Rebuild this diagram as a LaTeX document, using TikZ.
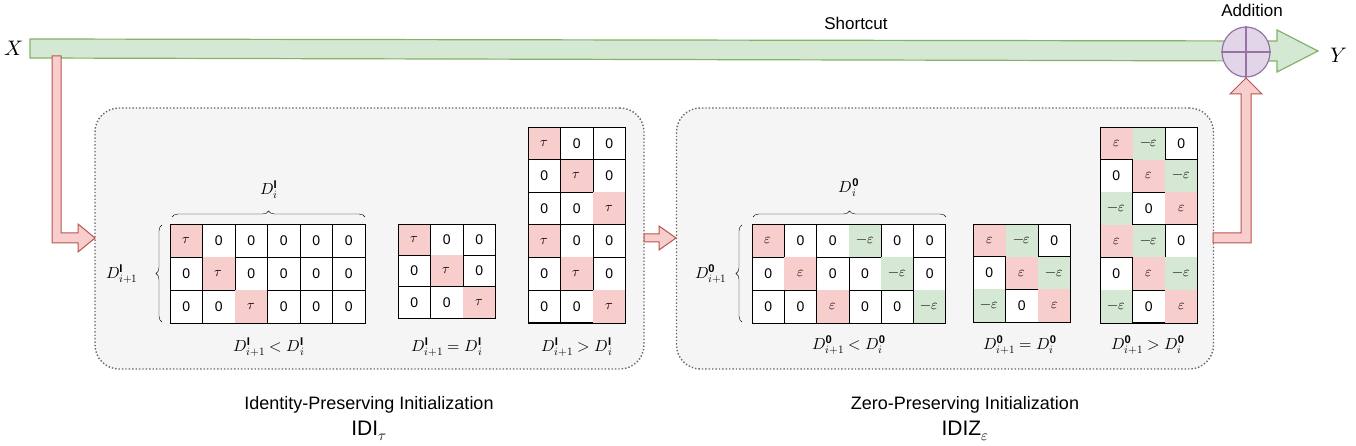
\documentclass[tikz,border=0pt]{standalone}
\usepackage{fontspec}
\setmainfont{Liberation Sans}
\usepackage{amsmath}
\usepackage{unicode-math}
\setmathfont{Latin Modern Math}
\usetikzlibrary{decorations.pathreplacing,shapes.geometric}
\definecolor{pinkf}{HTML}{F8CECC}
\definecolor{redl}{HTML}{B85450}
\definecolor{greenf}{HTML}{D5E8D4}
\definecolor{greenl}{HTML}{82B366}
\definecolor{purf}{HTML}{E1D5E7}
\definecolor{purl}{HTML}{9673A6}
\def\txtT{$\tau$}\def\txtZ{0}\def\txtE{$\varepsilon$}\def\txtM{$-\varepsilon$}
\tikzset{
 cellbase/.style={inner sep=0pt,font=\fontsize{14}{14}\selectfont},
 cellT/.style={cellbase,fill=pinkf},
 cellE/.style={cellbase,fill=pinkf},
 cellM/.style={cellbase,fill=greenf},
 cellZ/.style={cellbase,fill=white,draw=black,thick},
 grp/.style={draw=black!60,dotted,line width=1.4pt,fill=black!4,rounded corners=24pt,inner sep=0pt},
 redarr/.style={draw=redl,fill=pinkf,line width=1pt,line join=miter},
 lab/.style={font=\fontsize{16}{16}\selectfont},
 brc/.style={decorate,decoration={brace,amplitude=6pt},thin},
}
\newcommand\mtx[6]{\foreach \r [count=\i] in {#6} {\foreach \c [count=\j] in \r {
 \node[cell\c,minimum width=#4pt,minimum height=#5pt] (#1-\i-\j) at ({#2+(\j-0.5)*#4},{#3+(\i-0.5)*#5}) {\csname txt\c\endcsname};}}}
\begin{document}
\begin{tikzpicture}[x=1pt,y=-1pt]
\useasboundingbox (0,0) rectangle (1356,446);
% groups
\node[grp,minimum width=549pt,minimum height=261pt] (g1) at (369.5,238.5) {};
\node[grp,minimum width=537pt,minimum height=261pt] (g2) at (945,238.5) {};
% green shortcut
\draw[draw=greenl,fill=greenf,line width=1.2pt] (30,39) -- (1277,41) -- (1277,30) -- (1318,51) -- (1277,72) -- (1277,61) -- (30,58) -- cycle;
\node[font=\fontsize{17}{17}\selectfont] (sc) at (856,23) {Shortcut};
\node[font=\fontsize{21}{21}\selectfont] (X) at (14,48) {$X$};
\node[font=\fontsize{21}{21}\selectfont] (Y) at (1339,55) {$Y$};
% red arrows
\draw[redarr] (52,56) -- (61,56) -- (61,233) -- (78,233) -- (78,224) -- (95,238) -- (78,252) -- (78,243) -- (52,243) -- cycle;
\draw[redarr] (644,234) -- (659,234) -- (659,226) -- (676,238) -- (659,250) -- (659,242) -- (644,242) -- cycle;
\draw[redarr] (1213,233) -- (1241,233) -- (1241,94) -- (1230,94) -- (1246,78) -- (1262,94) -- (1251,94) -- (1251,243) -- (1213,243) -- cycle;
% addition
\node[ellipse,draw=purl,fill=purf,line width=1.2pt,minimum width=48pt,minimum height=50pt,inner sep=0pt] (add) at (1246,52) {};
\draw[purl,line width=1.2pt] (add.north) -- (add.south) (add.west) -- (add.east);
\node[font=\fontsize{17}{17}\selectfont] (addl) at (1252,10) {Addition};
% left matrices
\mtx{A}{170}{224}{32.5}{33}{{T,Z,Z,Z,Z,Z},{Z,T,Z,Z,Z,Z},{Z,Z,T,Z,Z,Z}}
\draw[thick] (170,224) rectangle (365,323);
\mtx{B}{398}{224}{32.5}{31.3}{{T,Z,Z},{Z,T,Z},{Z,Z,T}}
\draw[thick] (398,224) rectangle (495.5,318);
\mtx{C}{528}{127}{32.5}{32.6}{{T,Z,Z},{Z,T,Z},{Z,Z,T},{T,Z,Z},{Z,T,Z},{Z,Z,T}}
\draw[thick] (528,127) rectangle (625.5,323);
\draw[brc] (172,217) -- (365,217);
\draw[brc] (162,322) -- (162,225);
\node[lab] (l1) at (269,190) {$D_i^{\mathbf{I}}$};
\node[lab] (l2) at (122,274) {$D_{i+1}^{\mathbf{I}}$};
\node[lab] (l3) at (269,347) {$D_{i+1}^{\mathbf{I}}<D_i^{\mathbf{I}}$};
\node[lab] (l4) at (447,347) {$D_{i+1}^{\mathbf{I}}=D_i^{\mathbf{I}}$};
\node[lab] (l5) at (577,347) {$D_{i+1}^{\mathbf{I}}>D_i^{\mathbf{I}}$};
% right matrices
\mtx{D}{752}{224}{32.3}{33}{{E,Z,Z,M,Z,Z},{Z,E,Z,Z,M,Z},{Z,Z,E,Z,Z,M}}
\draw[thick] (752,224) rectangle (945.8,323);
\mtx{E}{973}{224}{32.5}{32.7}{{E,M,Z},{Z,E,M},{M,Z,E}}
\draw[thick] (973,224) rectangle (1070.5,322);
\mtx{F}{1100}{127}{32.5}{32.6}{{E,M,Z},{Z,E,M},{M,Z,E},{E,M,Z},{Z,E,M},{M,Z,E}}
\draw[thick] (1100,127) rectangle (1197.5,323);
\draw[brc] (753,217) -- (946,217);
\draw[brc] (742,322) -- (742,225);
\node[lab] (r1) at (849,188) {$D_i^{\mathbf{0}}$};
\node[lab] (r2) at (711,274) {$D_{i+1}^{\mathbf{0}}$};
\node[lab] (r3) at (849,345) {$D_{i+1}^{\mathbf{0}}<D_i^{\mathbf{0}}$};
\node[lab] (r4) at (1020,345) {$D_{i+1}^{\mathbf{0}}=D_i^{\mathbf{0}}$};
\node[lab] (r5) at (1148,345) {$D_{i+1}^{\mathbf{0}}>D_i^{\mathbf{0}}$};
% titles
\node[font=\fontsize{18}{18}\selectfont] (t1) at (369,405) {Identity-Preserving Initialization};
\node[font=\fontsize{21}{21}\selectfont] (t1b) at (369,431) {$\mathrm{IDI}_\tau$};
\node[font=\fontsize{18}{18}\selectfont] (t2) at (965,405) {Zero-Preserving Initialization};
\node[font=\fontsize{21}{21}\selectfont] (t2b) at (965,431) {$\mathrm{IDIZ}_\varepsilon$};
\end{tikzpicture}
\end{document}
